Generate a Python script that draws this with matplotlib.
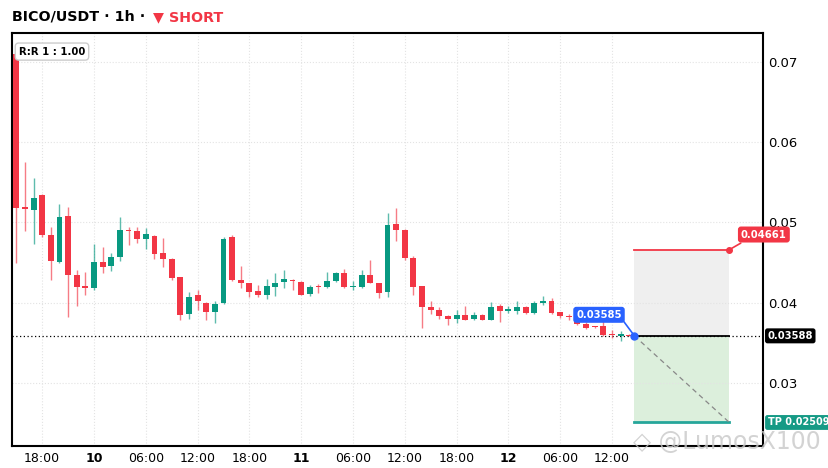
import numpy as np
import matplotlib.pyplot as plt

# hourly candles, hour 0 = day 10 00:00
opens = [0.0710, 0.0519, 0.05155, 0.05341, 0.04846, 0.04511, 0.05083, 0.04348, 0.04203, 0.04178,
         0.0451, 0.04456, 0.04576, 0.04905, 0.0490, 0.0480, 0.04834, 0.04618, 0.04551, 0.04315,
         0.03863, 0.04097, 0.03996, 0.03884, 0.03991, 0.04813, 0.04286, 0.04245, 0.04146, 0.04095,
         0.04191, 0.04253, 0.04286, 0.04261, 0.04108, 0.04207, 0.04195, 0.0427, 0.04365, 0.04195,
         0.04199, 0.04345, 0.04245, 0.04129, 0.0498, 0.04909, 0.0456, 0.04204, 0.03946, 0.03904,
         0.03838, 0.03797, 0.03842, 0.03797, 0.03842, 0.03788, 0.03954, 0.03896, 0.0390, 0.03946,
         0.03871, 0.0400, 0.04025, 0.0388, 0.0383, 0.03822, 0.03738, 0.03701, 0.03714, 0.03600,
         0.03590, 0.03598]
highs = [0.0712, 0.05759, 0.05552, 0.0536, 0.04942, 0.05224, 0.05191, 0.0441, 0.04377, 0.04734,
         0.0470, 0.04619, 0.05062, 0.04942, 0.0494, 0.0493, 0.0484, 0.0481, 0.0456, 0.0432,
         0.04133, 0.04154, 0.0401, 0.04017, 0.04825, 0.0485, 0.04464, 0.0425, 0.04224, 0.0429,
         0.0437, 0.04407, 0.0430, 0.0427, 0.04224, 0.04236, 0.04378, 0.0438, 0.04423, 0.04274,
         0.04411, 0.04527, 0.0425, 0.05124, 0.0518, 0.0492, 0.04577, 0.0421, 0.04016, 0.03946,
         0.0385, 0.03913, 0.03954, 0.03884, 0.0386, 0.04008, 0.03983, 0.03954, 0.04025, 0.0396,
         0.04016, 0.04079, 0.04062, 0.0389, 0.03863, 0.0385, 0.0376, 0.03715, 0.03788, 0.03666,
         0.03643, 0.03605]
lows = [0.0450, 0.04896, 0.04731, 0.0482, 0.04278, 0.0449, 0.03822, 0.03954, 0.0410, 0.0416,
        0.0437, 0.0439, 0.04514, 0.0472, 0.0475, 0.04672, 0.04551, 0.0444, 0.04278, 0.03788,
        0.0380, 0.03913, 0.03788, 0.03747, 0.0399, 0.0427, 0.04183, 0.04066, 0.0407, 0.04046,
        0.04079, 0.04183, 0.04162, 0.0410, 0.0408, 0.0412, 0.0418, 0.0426, 0.0419, 0.04153,
        0.04183, 0.0424, 0.04054, 0.04071, 0.04772, 0.04535, 0.0410, 0.03685, 0.03863, 0.03797,
        0.03726, 0.03747, 0.0378, 0.0379, 0.0378, 0.0378, 0.0376, 0.0387, 0.03863, 0.0386,
        0.0386, 0.03967, 0.0386, 0.0381, 0.0379, 0.0372, 0.0367, 0.0368, 0.0359, 0.03564,
        0.0353, 0.0358]
closes = [0.05186, 0.0517, 0.05311, 0.04846, 0.04523, 0.05074, 0.0434, 0.0420, 0.04178, 0.04502,
          0.04444, 0.04568, 0.04905, 0.0489, 0.0480, 0.04855, 0.0461, 0.04544, 0.04311, 0.03851,
          0.04078, 0.04017, 0.03879, 0.03988, 0.04793, 0.04278, 0.04245, 0.04128, 0.0410, 0.04207,
          0.04245, 0.04295, 0.04266, 0.0410, 0.04195, 0.04195, 0.0427, 0.04365, 0.04199, 0.04211,
          0.04349, 0.04245, 0.04121, 0.04963, 0.04909, 0.0456, 0.04196, 0.03946, 0.03904, 0.0383,
          0.03797, 0.03842, 0.03788, 0.03842, 0.03788, 0.03946, 0.03892, 0.03921, 0.03946, 0.03871,
          0.03996, 0.04025, 0.03871, 0.0383, 0.03822, 0.0374, 0.03689, 0.03692, 0.03593, 0.03594,
          0.03615, 0.03588]
first_hour = -9

entry = 0.03588
stop = 0.04661
target = 0.02509
last_price = 0.03585
trade_start, trade_end = 62.6, 73.6

tick_hours = [-6, 0, 6, 12, 18, 24, 30, 36, 42, 48, 54, 60]
tick_labels = ['18:00', '10', '06:00', '12:00', '18:00', '11', '06:00', '12:00', '18:00', '12', '06:00', '12:00']
y_ticks = [0.03, 0.04, 0.05, 0.06, 0.07]

RED = '#f23645'
GREEN = '#089981'

fig = plt.figure(figsize=(8.29, 4.68), dpi=100)
ax = fig.add_axes([0.0145, 0.047, 0.9059, 0.8825])

hrs = np.arange(len(opens)) + first_hour
o = np.array(opens); c = np.array(closes)
cols = [GREEN if cc >= oo else RED for oo, cc in zip(o, c)]
ax.vlines(hrs, lows, highs, colors=cols, linewidth=1, alpha=0.65, zorder=3)
body = np.maximum(np.abs(c - o), 0.00013)
ax.bar(hrs, body, bottom=np.minimum(o, c), width=0.68, color=cols, zorder=4)

# trade zones
ax.fill_between([trade_start, trade_end], entry, stop, color='#efefef', zorder=1, lw=0)
ax.fill_between([trade_start, trade_end], target, entry, color='#dcefdc', zorder=1, lw=0)
ax.plot([trade_start, trade_end], [stop, stop], color=RED, lw=1.3, zorder=5)
ax.plot([trade_start, trade_end], [target, target], color='#26a69a', lw=2, zorder=5)
ax.plot([trade_start, trade_end], [entry, entry], color='black', lw=1.3, zorder=5)
ax.plot([trade_start, trade_end], [entry, target], color='#888888', lw=0.9, ls=(0, (4, 3)), zorder=5)
ax.axhline(entry, color='black', lw=0.9, ls=(0, (1, 2)), zorder=2)
ax.plot(trade_start, entry, 'o', color='#2962ff', ms=5, zorder=7)
ax.plot(trade_end, stop, 'o', color=RED, ms=4, zorder=7)

# labels
ax.annotate('', xy=(trade_start, entry), xytext=(61.0, 0.0382),
            arrowprops=dict(arrowstyle='-', color='#2962ff', lw=1.2), zorder=6)
ax.text(58.5, 0.0385, f'{last_price:.5f}', color='white', fontsize=7.2, fontweight='bold',
        ha='center', va='center', zorder=8,
        bbox=dict(boxstyle='round,pad=0.3', fc='#2962ff', ec='none'))
ax.annotate('', xy=(trade_end, stop), xytext=(75.2, 0.0476),
            arrowprops=dict(arrowstyle='-', color=RED, lw=1.2), zorder=6)
ax.text(77.6, 0.0485, f'{stop:.5f}', color='white', fontsize=7.2, fontweight='bold',
        ha='center', va='center', zorder=8, clip_on=False,
        bbox=dict(boxstyle='round,pad=0.3', fc=RED, ec='none'))
ax.text(1.006, entry, f'{entry:.5f}', transform=ax.get_yaxis_transform(), color='white',
        fontsize=7.2, fontweight='bold', ha='left', va='center', clip_on=False,
        bbox=dict(boxstyle='round,pad=0.25', fc='black', ec='none'))
ax.text(1.006, target, f'TP {target:.5f}', transform=ax.get_yaxis_transform(), color='white',
        fontsize=7, fontweight='bold', ha='left', va='center', clip_on=False,
        bbox=dict(boxstyle='round,pad=0.25', fc='#159a85', ec='none'))
ax.text(0.009, 0.955, 'R:R 1 : 1.00', transform=ax.transAxes, fontsize=7.3, fontweight='bold',
        ha='left', va='center', zorder=9,
        bbox=dict(boxstyle='round,pad=0.35', fc='white', ec='#cccccc', lw=1))

ax.set_xlim(-9.5, 77.5)
ax.set_ylim(0.02216, 0.0736)
ax.set_xticks(tick_hours)
ax.set_xticklabels(tick_labels, fontsize=9)
for lbl, t in zip(ax.get_xticklabels(), tick_labels):
    if ':' not in t:
        lbl.set_fontweight('bold')
ax.yaxis.tick_right()
ax.set_yticks(y_ticks)
ax.set_yticklabels([f'{v:.2f}' for v in y_ticks], fontsize=9.5)
ax.tick_params(length=0, pad=4)
ax.grid(True, color='#e3e3e3', ls=':', lw=0.8, zorder=0)
for s in ax.spines.values():
    s.set_linewidth(1.5)
    s.set_color('black')

fig.text(12/829, 1 - 17/468, 'BICO/USDT · 1h ·', fontsize=10.3, fontweight='bold',
         ha='left', va='center')
fig.text(153/829, 1 - 17/468, '▼ SHORT', fontsize=10.3, fontweight='bold', color=RED,
         ha='left', va='center')
fig.text(0.99, 0.055, '◇ @LumosX100', fontsize=17, color='#c8c8c8', alpha=0.8,
         ha='right', va='center')

fig.savefig('out.png', dpi=100)
